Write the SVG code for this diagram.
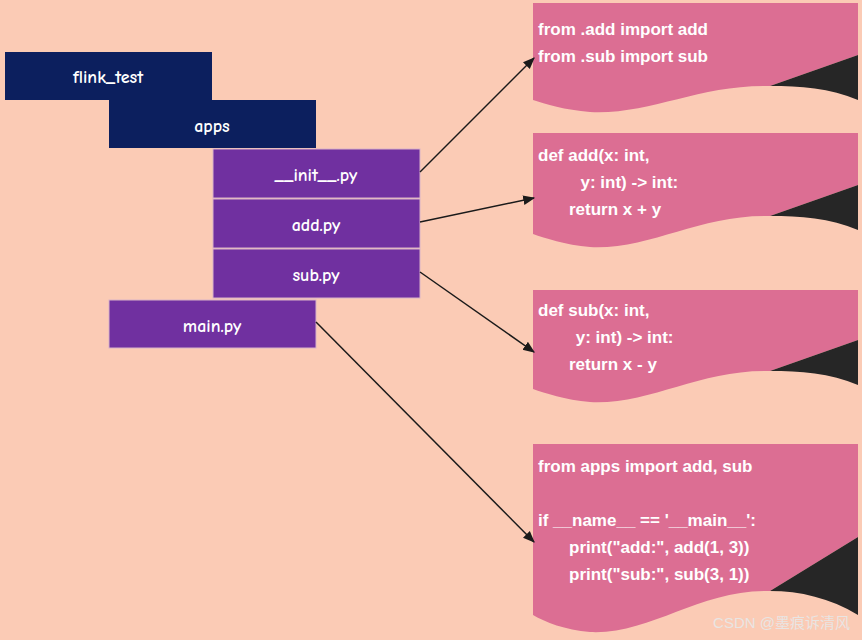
<svg xmlns="http://www.w3.org/2000/svg" width="862" height="640" viewBox="0 0 862 640">
<style>
.t{font-family:"Comic Neue","Liberation Sans",sans-serif;font-weight:bold;font-size:18px;fill:#fff}
.c{font-family:"Liberation Sans",sans-serif;font-weight:bold;font-size:17px;fill:#fff}
.nv{fill:#0c1f5e}.pu{fill:#7030a0;stroke:#d9b3c8;stroke-width:1}
.doc{fill:#dc6e93}.dk{fill:#262626}
.ar{stroke:#1a1a1a;stroke-width:1.5;fill:none;marker-end:url(#a)}
</style>
<defs><marker id="a" viewBox="0 0 10 10" refX="9" refY="5" markerWidth="8" markerHeight="8" orient="auto"><path d="M0,1 L10,5 L0,9 z" fill="#1a1a1a"/></marker></defs>
<rect width="862" height="640" fill="#fbcbb5"/>
<g id="flink_test"><rect class="nv" x="5" y="52" width="207" height="48"/><text class="t" x="108" y="83" text-anchor="middle">flink_test</text></g>
<g id="apps"><rect class="nv" x="109" y="100" width="207" height="48"/><text class="t" x="212" y="132" text-anchor="middle">apps</text></g>
<g id="init"><rect class="pu" x="213" y="149" width="207" height="49"/><text class="t" x="316" y="181" text-anchor="middle">__init__.py</text></g>
<g id="add"><rect class="pu" x="213" y="199" width="207" height="49"/><text class="t" x="316" y="231" text-anchor="middle">add.py</text></g>
<g id="sub"><rect class="pu" x="213" y="249" width="207" height="49"/><text class="t" x="316" y="281" text-anchor="middle">sub.py</text></g>
<g id="main"><rect class="pu" x="109" y="300" width="207" height="48" stroke="none"/><text class="t" x="212" y="332" text-anchor="middle">main.py</text></g>
<g id="doc1">
<path class="doc" d="M533,3 H858 V55 L770,86 C700,84 650,115 590,112 C565,110 545,104 533,100 Z"/>
<path class="dk" d="M770,86 L858,55 V100 C830,88 800,86 770,86 Z"/>
<text class="c" x="538" y="35">from .add import add</text>
<text class="c" x="538" y="62">from .sub import sub</text>
</g>
<g id="doc2">
<path class="doc" d="M533,133 H858 V185 L770,216 C700,214 650,250 590,247 C565,245 545,238 533,234 Z"/>
<path class="dk" d="M770,216 L858,185 V230 C830,218 800,216 770,216 Z"/>
<text class="c" x="538" y="161">def add(x: int,</text>
<text class="c" x="538" y="188" xml:space="preserve">         y: int) -&gt; int:</text>
<text class="c" x="569" y="215">return x + y</text>
</g>
<g id="doc3">
<path class="doc" d="M533,290 H858 V340 L770,371 C700,369 650,405 590,402 C565,400 545,393 533,389 Z"/>
<path class="dk" d="M770,371 L858,340 V385 C830,373 800,371 770,371 Z"/>
<text class="c" x="538" y="316">def sub(x: int,</text>
<text class="c" x="538" y="343" xml:space="preserve">        y: int) -&gt; int:</text>
<text class="c" x="569" y="370">return x - y</text>
</g>
<g id="doc4">
<path class="doc" d="M533,444 H858 V537 L770,591 C700,589 650,635 590,632 C565,630 545,622 533,615 Z"/>
<path class="dk" d="M770,591 L858,537 V615 C830,598 800,591 770,591 Z"/>
<text class="c" x="538" y="472">from apps import add, sub</text>
<text class="c" x="538" y="526">if __name__ == '__main__':</text>
<text class="c" x="569" y="553">print("add:", add(1, 3))</text>
<text class="c" x="569" y="580">print("sub:", sub(3, 1))</text>
</g>
<g id="connectors">
<path class="ar" d="M420,172 L534,58"/>
<path class="ar" d="M420,222 L534,198"/>
<path class="ar" d="M420,272 L534,352"/>
<path class="ar" d="M316,322 L534,542"/>
</g>
<text x="850" y="628" text-anchor="end" font-family="Liberation Sans,Noto Sans CJK SC,sans-serif" font-size="15" fill="#e8e8e8" opacity="0.9">CSDN @墨痕诉清风</text>
</svg>
